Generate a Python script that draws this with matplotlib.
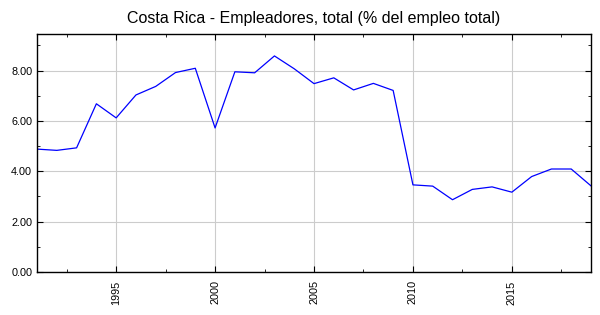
import matplotlib
matplotlib.use("Agg")
import matplotlib.pyplot as plt
from matplotlib.ticker import MultipleLocator, FormatStrFormatter

years = list(range(1991, 2020))
values = [4.88, 4.83, 4.93, 6.68, 6.12, 7.03, 7.37, 7.92, 8.09, 5.72,
          7.95, 7.91, 8.58, 8.07, 7.48, 7.71, 7.23, 7.49, 7.21, 3.46,
          3.41, 2.87, 3.28, 3.38, 3.17, 3.79, 4.09, 4.09, 3.42]
title = "Costa Rica - Empleadores, total (% del empleo total)"

plt.rcParams['font.family'] = ['Liberation Sans', 'DejaVu Sans']
fig = plt.figure(figsize=(6, 3.15), dpi=100)
ax = fig.add_axes([0.0617, 0.1365, 0.9233, 0.7555])
ax.plot(years, values, color='#0000ff', linewidth=0.9)
ax.set_xlim(1991, 2019)
ax.set_ylim(0, 9.45)
ax.yaxis.set_major_locator(MultipleLocator(2))
ax.yaxis.set_minor_locator(MultipleLocator(1))
ax.yaxis.set_major_formatter(FormatStrFormatter('%.2f'))
ax.xaxis.set_major_locator(MultipleLocator(5))
ax.xaxis.set_minor_locator(MultipleLocator(2.5))
ax.grid(True, which='major', color='#cccccc', linewidth=0.8)
ax.set_axisbelow(True)
ax.tick_params(which='both', direction='in', top=True, right=True, labelsize=7.8)
ax.tick_params(which='major', length=4)
ax.tick_params(which='minor', length=2.5)
ax.tick_params(axis='x', which='major', pad=6)
for lbl in ax.get_xticklabels():
    lbl.set_rotation(90)
for s in ax.spines.values():
    s.set_linewidth(1.0)
ax.set_title(title, fontsize=11.5, pad=8)
fig.savefig("out.png", dpi=100)
